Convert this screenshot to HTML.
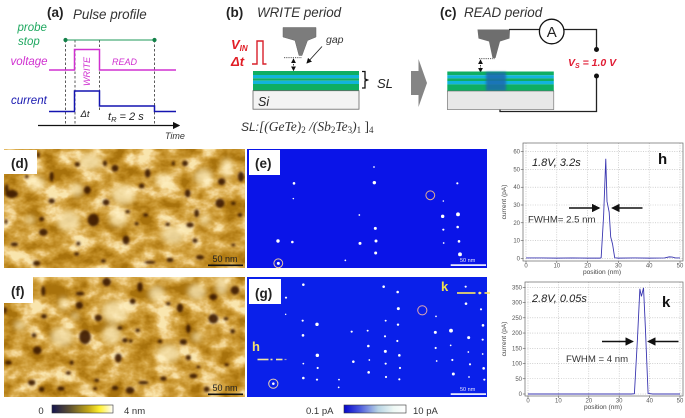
<!DOCTYPE html>
<html>
<head>
<meta charset="utf-8">
<style>
html,body{margin:0;padding:0;background:#fff;width:685px;height:418px;overflow:hidden}
svg{display:block}
text{font-family:"Liberation Sans",sans-serif}
.lab{font-weight:bold;font-size:13.5px;fill:#222}
.ti{font-style:italic;font-size:13.4px;fill:#333}
.tick{font-size:6px;fill:#555}
</style>
</head>
<body>
<svg id="fig" xmlns="http://www.w3.org/2000/svg" width="685" height="418" viewBox="0 0 685 418">
<defs>
<filter id="afmA" x="0" y="0" width="100%" height="100%" color-interpolation-filters="sRGB">
<feTurbulence type="fractalNoise" baseFrequency="0.045 0.06" numOctaves="4" seed="11"/>
<feColorMatrix values="2 0 0 0 -0.5 2 0 0 0 -0.5 2 0 0 0 -0.5 0 0 0 0 1"/>
<feComponentTransfer>
<feFuncR type="table" tableValues="0.66 0.73 0.79 0.85 0.93 0.98"/>
<feFuncG type="table" tableValues="0.45 0.52 0.59 0.67 0.79 0.90"/>
<feFuncB type="table" tableValues="0.05 0.11 0.19 0.30 0.50 0.68"/>
</feComponentTransfer>
</filter>
<filter id="afmB" x="0" y="0" width="100%" height="100%" color-interpolation-filters="sRGB">
<feTurbulence type="fractalNoise" baseFrequency="0.045 0.06" numOctaves="4" seed="23"/>
<feColorMatrix values="2 0 0 0 -0.5 2 0 0 0 -0.5 2 0 0 0 -0.5 0 0 0 0 1"/>
<feComponentTransfer>
<feFuncR type="table" tableValues="0.66 0.73 0.79 0.85 0.93 0.98"/>
<feFuncG type="table" tableValues="0.45 0.52 0.59 0.67 0.79 0.90"/>
<feFuncB type="table" tableValues="0.05 0.11 0.19 0.30 0.50 0.68"/>
</feComponentTransfer>
</filter>
<filter id="soft" x="-30%" y="-30%" width="160%" height="160%"><feGaussianBlur stdDeviation="1.1"/></filter>
<filter id="softer" x="-40%" y="-40%" width="180%" height="180%"><feGaussianBlur stdDeviation="3"/></filter>
<filter id="tiny" x="-100%" y="-100%" width="300%" height="300%"><feGaussianBlur stdDeviation="0.35"/></filter>
<clipPath id="clipD"><rect x="4" y="149" width="241" height="119"/></clipPath>
<clipPath id="clipF"><rect x="4" y="277" width="241" height="120"/></clipPath>
<linearGradient id="cbAfm" x1="0" x2="1" y1="0" y2="0">
<stop offset="0" stop-color="#14144e"/><stop offset=".3" stop-color="#5f5230"/><stop offset=".6" stop-color="#c4a818"/><stop offset=".78" stop-color="#fff030"/><stop offset="1" stop-color="#ffffff"/>
</linearGradient>
<linearGradient id="cbCur" x1="0" x2="1" y1="0" y2="0">
<stop offset="0" stop-color="#0505cc"/><stop offset=".25" stop-color="#4a58dc"/><stop offset=".55" stop-color="#b8d4e4"/><stop offset=".8" stop-color="#eef8f4"/><stop offset="1" stop-color="#ffffff"/>
</linearGradient>
<marker id="ah" markerWidth="6" markerHeight="6" refX="5" refY="3" orient="auto"><path d="M0,0 L6,3 L0,6 z" fill="#111"/></marker>
<marker id="ahs" markerWidth="6" markerHeight="6" refX="1" refY="3" orient="auto"><path d="M6,0 L0,3 L6,6 z" fill="#111"/></marker>
</defs>

<!-- PANEL A -->
<g id="panelA">
<text class="lab" x="47" y="17">(a)</text>
<text class="ti" x="73" y="19">Pulse profile</text>
<text x="17.5" y="31" font-size="11.5" font-style="italic" fill="#1fa860">probe</text>
<text x="18" y="45" font-size="11.5" font-style="italic" fill="#1fa860">stop</text>
<text x="10.5" y="65" font-size="11.5" font-style="italic" fill="#d030d0">voltage</text>
<text x="11" y="104" font-size="11.5" font-style="italic" fill="#1818b0">current</text>
<g stroke="#333" stroke-width="0.8" stroke-dasharray="2.5 2">
<line x1="65.5" y1="40" x2="65.5" y2="126"/><line x1="75" y1="40" x2="75" y2="126"/><line x1="99.5" y1="40" x2="99.5" y2="112"/><line x1="154.5" y1="40" x2="154.5" y2="126"/>
</g>
<line x1="65.5" y1="40" x2="154.5" y2="40" stroke="#1f9a58" stroke-width="1"/>
<circle cx="65.5" cy="40" r="2.1" fill="#128048"/>
<circle cx="154.5" cy="40" r="2.1" fill="#128048"/>
<polyline points="49,70 74.5,70 74.5,49.5 99.5,49.5 99.5,70 176,70" fill="none" stroke="#d030d0" stroke-width="1.5"/>
<polyline points="49,111.5 74.5,111.5 74.5,91 99.5,91 99.5,106 154.5,106 154.5,111.5 176,111.5" fill="none" stroke="#1414b0" stroke-width="1.5"/>
<line x1="38" y1="125.5" x2="179" y2="125.5" stroke="#111" stroke-width="1.2" marker-end="url(#ah)"/>
<text x="165" y="139" font-size="9" font-style="italic" fill="#333">Time</text>
<text transform="translate(90,86) rotate(-90)" font-size="9" font-style="italic" fill="#d030d0">WRITE</text>
<text x="112" y="65" font-size="9" font-style="italic" fill="#d030d0">READ</text>
<text x="80.5" y="117" font-size="9.5" font-style="italic" fill="#222">Δt</text>
<text x="108" y="120" font-size="11" font-style="italic" fill="#222">t<tspan font-size="7.5" dy="2">R</tspan><tspan dy="-2"> = 2 s</tspan></text>
</g>

<!-- PANEL B -->
<g id="panelB">
<text class="lab" x="226" y="17">(b)</text>
<text class="ti" x="257" y="17">WRITE period</text>
<text x="231" y="49" font-size="13" font-weight="bold" font-style="italic" fill="#e01c24">V<tspan font-size="8" dy="2">IN</tspan></text>
<text x="231" y="66" font-size="13" font-weight="bold" font-style="italic" fill="#e01c24">Δt</text>
<polyline points="252,64 257,64 257,41 263,41 263,64 266.5,64" fill="none" stroke="#d8202a" stroke-width="1.4"/>
<path d="M283,27.5 H316 V37 L307.5,40.5 L302,55.5 H299 L295,40.5 L283,37 Z" fill="#7c7c7c" stroke="#666" stroke-width=".5"/>
<line x1="284" y1="57.7" x2="302" y2="57.7" stroke="#444" stroke-width=".8" stroke-dasharray="1.2 1"/>
<line x1="293.5" y1="59" x2="293.5" y2="70.5" stroke="#111" stroke-width=".8" stroke-dasharray="1.5 1" marker-end="url(#ah)" marker-start="url(#ahs)"/>
<text x="326" y="43" font-size="10.5" font-style="italic" fill="#333">gap</text>
<line x1="322" y1="46.5" x2="307" y2="63" stroke="#222" stroke-width=".9" marker-end="url(#ah)"/>
<g>
<rect x="253" y="71" width="106" height="4" fill="#0fae62"/>
<rect x="253" y="75" width="106" height="3.3" fill="#12b4dc"/>
<rect x="253" y="78.3" width="106" height="2.4" fill="#0fae62"/>
<rect x="253" y="80.7" width="106" height="3.3" fill="#12b4dc"/>
<rect x="253" y="84" width="106" height="6.7" fill="#0fae62"/>
</g>
<rect x="253" y="90.7" width="106" height="18.5" fill="#f3f3f3" stroke="#666" stroke-width=".8"/>
<path d="M362,71.5 h3 v7.5 l2.5,1 l-2.5,1 v7 h-3" fill="none" stroke="#111" stroke-width="1.3"/>
<text x="377" y="88" font-size="13" font-style="italic" fill="#222">SL</text>
<text x="258" y="106" font-size="12.5" font-style="italic" fill="#222">Si</text>
<text x="241" y="131" font-size="12" font-style="italic" fill="#333">SL:<tspan font-family="'Liberation Serif',serif" font-size="13.5">[(GeTe)<tspan font-size="9" dy="2" font-style="normal">2</tspan><tspan dy="-2"> /(Sb</tspan><tspan font-size="9" dy="2" font-style="normal">2</tspan><tspan dy="-2">Te</tspan><tspan font-size="9" dy="2" font-style="normal">3</tspan><tspan dy="-2">)</tspan><tspan font-size="9" dy="2" font-style="normal">1</tspan><tspan dy="-2" font-style="normal"> ]</tspan><tspan font-size="9" dy="2" font-style="normal">4</tspan></tspan></text>
<path d="M411,71 H418.5 V59 L427,83 L418.5,107 V95 H411 Z" fill="#858585"/>
</g>

<!-- PANEL C -->
<g id="panelC">
<text class="lab" x="440" y="17">(c)</text>
<text class="ti" x="464" y="17">READ period</text>
<path d="M477.5,29.5 H510 L509.5,38.5 L500,41.5 L495.5,58 H492.5 L489,41.5 L478.5,38.5 Z" fill="#6e6e6e"/>
<polyline points="509,29.5 540,29.5" fill="none" stroke="#222" stroke-width="1.3"/>
<polyline points="564,29.5 596.5,29.5 596.5,49" fill="none" stroke="#222" stroke-width="1.3"/>
<polyline points="596.5,76 596.5,111.5 500,111.5 500,109" fill="none" stroke="#222" stroke-width="1.3"/>
<circle cx="551.7" cy="31.5" r="12.3" fill="#fff" stroke="#111" stroke-width="1.3"/>
<text x="551.7" y="37" font-size="15" text-anchor="middle" fill="#222">A</text>
<circle cx="596.5" cy="49.5" r="2.5" fill="#111"/>
<circle cx="596.5" cy="76" r="2.5" fill="#111"/>
<text x="568" y="66" font-size="10.5" font-weight="bold" font-style="italic" fill="#e01c34">V<tspan font-size="7" dy="2">S</tspan><tspan dy="-2"> = 1.0 V</tspan></text>
<line x1="479" y1="58.7" x2="495" y2="58.7" stroke="#444" stroke-width=".8" stroke-dasharray="1.2 1"/>
<line x1="480.5" y1="60" x2="480.5" y2="72" stroke="#111" stroke-width=".8" stroke-dasharray="1.5 1" marker-end="url(#ah)" marker-start="url(#ahs)"/>
<g>
<rect x="447.3" y="71.5" width="106.5" height="3.7" fill="#0fae62"/>
<rect x="447.3" y="75.2" width="106.5" height="3.2" fill="#12b4dc"/>
<rect x="447.3" y="78.4" width="106.5" height="2.6" fill="#0fae62"/>
<rect x="447.3" y="81" width="106.5" height="3.4" fill="#12b4dc"/>
<rect x="447.3" y="84.4" width="106.5" height="6.6" fill="#0fae62"/>
</g>
<rect x="486" y="72" width="20" height="19" fill="#1f66b0" opacity=".8" filter="url(#soft)"/>
<rect x="447.3" y="91" width="106.5" height="18.5" fill="#e8e8e8" stroke="#666" stroke-width=".6"/>
</g>

<!-- AFM PANELS -->
<g id="panelD" clip-path="url(#clipD)">
<rect x="4" y="149" width="241" height="119" filter="url(#afmA)"/>
<g id="blobsD" filter="url(#softer)" fill="#fff2c8"></g>
<g id="pitsD" filter="url(#soft)" fill="#3a1800"></g>
</g>
<rect x="4" y="150" width="33" height="24" fill="#fff"/>
<text class="lab" x="11" y="168">(d)</text>
<text x="212.5" y="262" font-size="9" fill="#222">50 nm</text>
<rect x="208" y="264.5" width="35" height="1.6" fill="#111"/>

<g id="panelF" clip-path="url(#clipF)">
<rect x="4" y="277" width="241" height="120" filter="url(#afmB)"/>
<g id="blobsF" filter="url(#softer)" fill="#fff2c8"></g>
<g id="pitsF" filter="url(#soft)" fill="#3a1800"></g>
</g>
<rect x="4" y="277" width="29" height="26" fill="#fff"/>
<text class="lab" x="11" y="296">(f)</text>
<text x="212.5" y="391" font-size="9" fill="#222">50 nm</text>
<rect x="208" y="393.5" width="35" height="1.6" fill="#111"/>

<!-- CURRENT MAPS -->
<rect x="247" y="149" width="240" height="119" fill="#0a14e8"/>
<g id="spotsE" filter="url(#tiny)" fill="#fff"></g>
<circle cx="430.3" cy="195.3" r="4.4" fill="none" stroke="#e0b090" stroke-width="1"/>
<circle cx="278.3" cy="263.3" r="4.4" fill="none" stroke="#e8c8a0" stroke-width="1"/>
<rect x="249" y="150" width="31" height="25" fill="#fff"/>
<text class="lab" x="255" y="168">(e)</text>
<text x="460" y="262" font-size="5.5" fill="#e8e8ff">50 nm</text>
<rect x="450.7" y="264.3" width="35.3" height="1.6" fill="#fff"/>

<rect x="247" y="277" width="240" height="120" fill="#0a20ea"/>
<g id="spotsG" filter="url(#tiny)" fill="#fff"></g>
<circle cx="422.3" cy="310.3" r="4.6" fill="none" stroke="#e0a8b0" stroke-width="1"/>
<circle cx="273.3" cy="383.7" r="4.6" fill="none" stroke="#e8d0b0" stroke-width="1"/>
<rect x="249" y="279" width="32" height="25" fill="#fff"/>
<text class="lab" x="255" y="298">(g)</text>
<text x="460" y="391" font-size="5.5" fill="#e8e8ff">50 nm</text>
<rect x="450.7" y="393.3" width="35.3" height="1.6" fill="#fff"/>
<text x="441" y="291" font-size="13" font-weight="bold" fill="#f0e050">k</text>
<g fill="#ffe860">
<rect x="457" y="292.2" width="18.5" height="1.6"/><rect x="478.5" y="292.2" width="2.8" height="1.6"/><rect x="484.5" y="292.2" width="5.5" height="1.6"/>
</g>
<text x="252" y="351" font-size="13" font-weight="bold" fill="#f0e070">h</text>
<g fill="#f4e8a0">
<rect x="257.5" y="358.7" width="11" height="1.6"/><rect x="270.5" y="358.7" width="2" height="1.6"/><rect x="276" y="358.7" width="6.5" height="1.6"/><rect x="284.5" y="358.9" width="2" height="1.2" opacity=".6"/>
</g>

<!-- COLOUR BARS -->
<text x="41" y="414" font-size="9.5" fill="#333" text-anchor="middle">0</text>
<rect x="52" y="405" width="61" height="8" fill="url(#cbAfm)" stroke="#333" stroke-width=".6"/>
<text x="124" y="414" font-size="9.5" fill="#333">4 nm</text>
<text x="306" y="414" font-size="9.5" fill="#333">0.1 pA</text>
<rect x="344" y="405" width="62" height="8" fill="url(#cbCur)" stroke="#333" stroke-width=".6"/>
<text x="413" y="414" font-size="9.5" fill="#333">10 pA</text>

<!-- LINE PROFILE CHARTS -->
<g id="chartH"></g>
<text x="532" y="166" font-size="11" font-style="italic" fill="#222">1.8V, 3.2s</text>
<text x="658" y="164" font-size="15" font-weight="bold" fill="#111">h</text>
<text x="528" y="222.5" font-size="9.6" fill="#333">FWHM= 2.5 nm</text>
<line x1="569" y1="208" x2="599" y2="208" stroke="#111" stroke-width="1.4" marker-end="url(#ah)"/>
<line x1="642.5" y1="208" x2="612.5" y2="208" stroke="#111" stroke-width="1.4" marker-end="url(#ah)"/>

<g id="chartK"></g>
<text x="532" y="302" font-size="11" font-style="italic" fill="#222">2.8V, 0.05s</text>
<text x="662" y="307" font-size="15" font-weight="bold" fill="#111">k</text>
<text x="566" y="362" font-size="9.6" fill="#333">FWHM = 4 nm</text>
<line x1="602" y1="341.5" x2="632.5" y2="341.5" stroke="#111" stroke-width="1.4" marker-end="url(#ah)"/>
<line x1="678.5" y1="341.5" x2="648.5" y2="341.5" stroke="#111" stroke-width="1.4" marker-end="url(#ah)"/>
</svg>

<script>
/* Chart h data */
var hPositions = [0,5,10,15,20,24,24.4,25.2,25.9,26.3,27,27.5,28.1,28.8,30,35,40,45,46.5,47.5,48.5,50];
var hCurrent   = [0.2,0.2,0.1,0.2,0.1,0.1,0.3,24,56,32,26,12,8,0.3,0.1,0.2,0.1,0.2,0.8,0.7,0.2,0.2];
var hXTicks = [0,10,20,30,40,50];
var hYTicks = [0,10,20,30,40,50,60];
/* Chart k data */
var kPositions = [0,10,20,30,34,35,36,36.8,37.3,38,38.6,39.5,41,45,50];
var kCurrent   = [0,0,0,0,0,1,180,345,320,348,220,2,0,0,0];
var kXTicks = [0,10,20,30,40,50];
var kYTicks = [0,50,100,150,200,250,300,350];
/* Current map spots: scan coordinates and relative strength */
var eSpotX = [387,147,388,637,145,595,343,593,639,391,595,638,99,142,345,393,596,642,392,645,301,100];
var eSpotY = [66,115,113,115,161,168,210,214,208,250,254,246,288,291,295,288,294,289,324,328,346,355];
var eSpotI = [1,2,3,1.5,.7,.8,1,3,3.5,2.5,1.5,2,3,2,2.5,2.5,1,2,2.5,3.5,1,2.5];
var gSpotX = [175,416,458,123,460,662,704,663,708,122,173,216,422,459,573,714,320,368,174,420,571,618,671,713,457,370,572,617,421,670,713,217,463,325,373,575,622,175,422,675,218,465,716,371,625,175,216,282,423,463,672,718,281,85];
var gSpotY = [38,44,60,77,110,44,63,95,112,127,146,157,146,158,133,160,179,176,190,193,181,176,197,203,207,222,228,220,238,240,246,250,250,269,264,267,264,275,275,277,288,288,289,301,306,318,323,323,315,322,315,323,346,335];
var gSpotI = [2,2,2,1.5,2.5,1.5,2,2,1.5,.7,1.5,3,1.2,1.8,1,2,1.5,1.2,2,1.5,2.5,3.5,2.5,1.5,1.5,2,1.5,1,2.5,1,1,3,2,2,1,1,1.5,1,1.5,1.5,1.5,1.5,2,2,2.5,2,1.5,1,1.5,1.5,1,1.5,1,2];
/* Topography features: scan coordinates and extents */
var dPitX = [35,155,232,345,443,555,665,723,660,700,563,425,262,155,318,280,125,130,43,378,437,570,503,585,720,600,510,450,310,110,235,230,18,410,383,520,315,115,590,20,80,700];
var dPitY = [147,95,58,70,85,55,110,95,175,175,145,123,135,168,172,225,222,262,298,285,210,240,238,287,210,337,345,352,348,355,296,327,230,236,200,55,55,30,205,130,95,300];
var dPitW = [22,7,9,12,10,10,13,11,16,8,10,10,12,11,12,20,9,15,13,12,9,13,8,9,8,14,12,20,9,13,7,9,5,7,8,5,7,5,8,6,6,7];
var dPitH = [14,18,8,12,15,10,12,18,16,6,14,9,14,9,11,22,8,12,7,16,6,9,6,8,7,8,8,5,6,9,7,6,9,6,6,8,10,10,14,15,6,5];
var dBlobX = [270,110,205,355,520,610,370,230,490,680,615,90];
var dBlobY = [50,115,228,218,270,95,150,135,105,70,225,225];
var dBlobW = [35,25,35,28,35,28,35,20,25,18,15,15];
var dBlobH = [25,20,30,28,28,25,30,20,18,30,15,12];
var fPitX = [130,240,238,320,420,398,540,505,640,705,640,678,698,132,295,15,255,102,112,25,360,413,375,392,480,550,355,565,580,490,430,290,95,125,183,345,390,285,620,215,205,595,680,565];
var fPitY = [57,65,100,30,45,88,108,95,75,55,140,140,178,133,138,115,195,190,235,272,168,175,205,207,208,210,258,257,312,320,332,325,332,352,350,348,355,350,352,272,303,285,278,170];
var fPitW = [7,15,13,15,10,10,11,8,13,15,17,8,8,10,13,6,20,8,15,12,9,8,10,6,8,13,12,9,14,11,18,9,13,10,13,12,15,7,10,7,9,7,8,8];
var fPitH = [18,7,13,15,17,10,16,6,11,15,17,6,8,8,12,12,25,8,14,7,6,6,8,6,7,10,16,9,8,8,6,6,10,9,8,8,12,5,10,8,6,5,5,16];
var fBlobX = [185,335,505,590,345,190,225,470,665,590,260,60,530];
var fBlobY = [195,188,245,60,120,95,133,65,40,195,350,160,10];
var fBlobW = [35,28,35,28,40,15,12,25,20,15,15,18,50];
var fBlobH = [30,28,28,25,35,20,12,25,30,15,8,15,12];

var NS = 'http://www.w3.org/2000/svg';
function mk(parent, tag, attrs){
  var el = document.createElementNS(NS, tag);
  for (var k in attrs) el.setAttribute(k, attrs[k]);
  parent.appendChild(el);
  return el;
}

/* Image scan coordinate scales */
function scanXLeft(v){ return v / 3; }
function scanYTopUpper(v){ return 145 + v / 3; }
function scanYTopLower(v){ return 272 + v / 3; }
function scanXMap(v){ return 245 + v / 3; }
function scanLen(v){ return v / 3; }
function spotRadius(i){ return 0.45 + i * 0.42; }

function drawEllipses(groupId, xs, ys, ws, hs, yScale, opacity, sizeK, name){
  var g = document.getElementById(groupId);
  for (var i = 0; i < xs.length; i++){
    var el = mk(g, 'ellipse', {cx: scanXLeft(xs[i]), cy: yScale(ys[i]), rx: scanLen(ws[i]) * sizeK, ry: scanLen(hs[i]) * sizeK, opacity: opacity});
    
    
  }
}
drawEllipses('blobsD', dBlobX, dBlobY, dBlobW, dBlobH, scanYTopUpper, 0.7, 1, 'bright-grain');
drawEllipses('pitsD', dPitX, dPitY, dPitW, dPitH, scanYTopUpper, 0.9, 0.85, 'dark-pit');
drawEllipses('blobsF', fBlobX, fBlobY, fBlobW, fBlobH, scanYTopLower, 0.7, 1, 'bright-grain');
drawEllipses('pitsF', fPitX, fPitY, fPitW, fPitH, scanYTopLower, 0.9, 0.85, 'dark-pit');

function drawSpots(groupId, xs, ys, is, yScale){
  var g = document.getElementById(groupId);
  for (var i = 0; i < xs.length; i++){
    var el = mk(g, 'circle', {cx: scanXMap(xs[i]), cy: yScale(ys[i]), r: spotRadius(is[i])});
    
    
  }
}
drawSpots('spotsE', eSpotX, eSpotY, eSpotI, scanYTopUpper);
drawSpots('spotsG', gSpotX, gSpotY, gSpotI, scanYTopLower);

function drawProfile(id, box, xMax, yMax, xTicks, yTicks, xs, ys, titleY){
  var g = document.getElementById(id);
  function sx(v){ return box.x0 + (v / xMax) * (box.x1 - box.x0); }
  function sy(v){ return box.y0 + (v / yMax) * (box.y1 - box.y0); }
  var i, el;
  for (i = 0; i < xTicks.length; i++){
    el = mk(g, 'line', {x1: sx(xTicks[i]), x2: sx(xTicks[i]), y1: box.top, y2: box.bottom, stroke: '#b4b4b4', 'stroke-width': .6, 'stroke-dasharray': '1 1.4'});
    
    
    el = mk(g, 'line', {x1: sx(xTicks[i]), x2: sx(xTicks[i]), y1: box.bottom, y2: box.bottom + 2, stroke: '#555', 'stroke-width': .6});
    
    
    el = mk(g, 'text', {x: sx(xTicks[i]), y: box.bottom + 6.5, 'text-anchor': 'middle', 'class': 'tick'});
    
    
    el.textContent = xTicks[i];
  }
  for (i = 0; i < yTicks.length; i++){
    el = mk(g, 'line', {x1: box.left, x2: box.right, y1: sy(yTicks[i]), y2: sy(yTicks[i]), stroke: '#b4b4b4', 'stroke-width': .6, 'stroke-dasharray': '1 1.4'});
    
    
    el = mk(g, 'line', {x1: box.left - 2.2, x2: box.left, y1: sy(yTicks[i]), y2: sy(yTicks[i]), stroke: '#555', 'stroke-width': .6});
    
    
    el = mk(g, 'text', {x: box.left - 3, y: sy(yTicks[i]) + 2, 'text-anchor': 'end', 'class': 'tick'});
    
    
    el.textContent = yTicks[i];
  }
  el = mk(g, 'rect', {x: box.left, y: box.top, width: box.right - box.left, height: box.bottom - box.top, fill: 'none', stroke: '#666', 'stroke-width': .7});
  
  
  var pts = [];
  for (i = 0; i < xs.length; i++) pts.push(sx(xs[i]).toFixed(2) + ',' + sy(ys[i]).toFixed(2));
  el = mk(g, 'polyline', {points: pts.join(' '), fill: 'none', stroke: '#3a36b0', 'stroke-width': .9});
  
  
  el = mk(g, 'text', {x: (box.left + box.right) / 2 - 1, y: titleY, 'text-anchor': 'middle', 'font-size': 6.6, fill: '#444'});
  
  
  el.textContent = 'position (nm)';
  el = mk(g, 'text', {transform: 'translate(506,' + ((box.top + box.bottom) / 2) + ') rotate(-90)', 'text-anchor': 'middle', 'font-size': 6.6, fill: '#444'});
  
  
  el.textContent = 'current (pA)';
}
drawProfile('chartH', {left:523, right:683, top:143, bottom:261, x0:526, x1:680, y0:258.3, y1:151.7}, 50, 60, hXTicks, hYTicks, hPositions, hCurrent, 274);
drawProfile('chartK', {left:525, right:683, top:282, bottom:396, x0:528, x1:680, y0:394, y1:287.3}, 50, 350, kXTicks, kYTicks, kPositions, kCurrent, 409);
</script>
</body>
</html>
